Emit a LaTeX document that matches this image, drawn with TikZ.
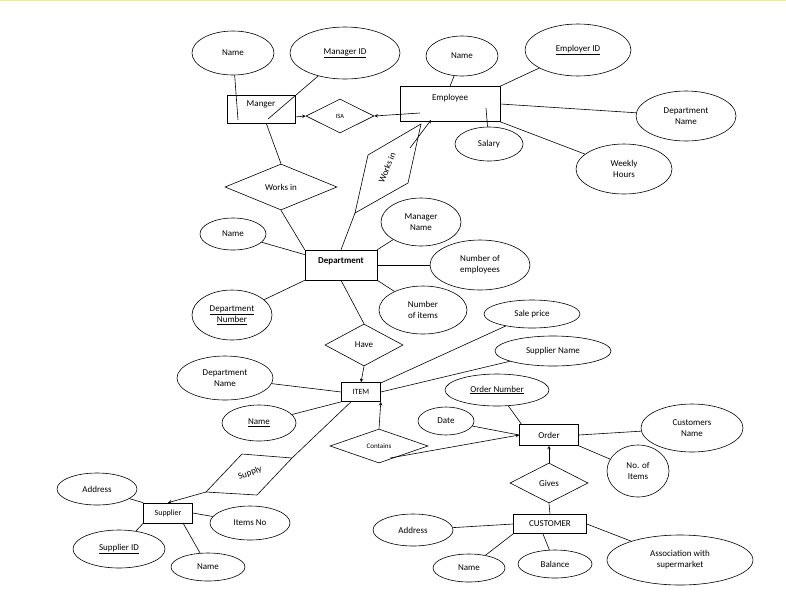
\documentclass[tikz,border=0pt]{standalone}
\usepackage{fontspec}
\setmainfont{Carlito}
\usetikzlibrary{shapes.geometric,arrows}

\tikzset{
	attr/.style={draw, ellipse, inner sep=0pt, align=center, font=\fontsize{9}{11}\selectfont},
	ent/.style={draw, rectangle, inner sep=0pt, font=\fontsize{9}{11}\selectfont},
	rel/.style={draw, diamond, inner sep=0pt, font=\fontsize{9}{11}\selectfont},
}

\begin{document}
\begin{tikzpicture}[x=1pt, y=-1pt, >=stealth, line width=0.6pt]
	\useasboundingbox (0,0) rectangle (786,606);
	\draw[yellow!60!gray!40, line width=1pt] (0,0.5) -- (786,0.5);

	% manager side
	\node[attr, minimum width=82, minimum height=44] (mname) at (233,53) {Name};
	\node[attr, minimum width=110, minimum height=52] (mid) at (345,53) {\underline{Manager ID}};
	\node[ent, minimum width=68, minimum height=28, text depth=10pt] (manger) at (261,109) {Manger};
	\node[rel, minimum width=68, minimum height=34, font=\fontsize{6.5}{7}\selectfont] (isa) at (340,116) {ISA};

	% employee
	\node[ent, minimum width=100, minimum height=35, text depth=14pt] (emp) at (450,104) {Employee};
	\node[attr, minimum width=72, minimum height=40] (ename) at (462,56) {Name};
	\node[attr, minimum width=106, minimum height=52] (eid) at (578,50) {\underline{Employer ID}};
	\node[attr, minimum width=100, minimum height=50] (edept) at (686,116) {Department\\Name};
	\node[attr, minimum width=68, minimum height=34] (sal) at (489,144) {Salary};
	\node[attr, minimum width=96, minimum height=50] (hours) at (624,169) {Weekly\\Hours};

	% works in
	\node[rel, minimum width=112, minimum height=46] (works) at (281,187) {Works in};
	\coordinate (wa) at (355,213);
	\coordinate (wb) at (368,155);
	\coordinate (wc) at (421,124);
	\coordinate (wd) at (408,183);
	\draw (wa) -- (wb) -- (wc) -- (wd) -- cycle;
	\node[rotate=68, font=\fontsize{9}{11}\selectfont] (workslbl) at (387,168) {Works in};

	% department
	\node[ent, minimum width=72, minimum height=30, text depth=8pt, font=\fontsize{9}{11}\selectfont\bfseries] (dept) at (341,265) {Department};
	\node[attr, minimum width=66, minimum height=32] (dname) at (233,234) {Name};
	\node[attr, minimum width=80, minimum height=48] (mgrname) at (421,222) {Manager\\Name};
	\node[attr, minimum width=100, minimum height=50] (nemp) at (480,265) {Number of\\employees};
	\node[attr, minimum width=80, minimum height=50] (dnum) at (232,315) {\underline{Department}\\\underline{Number}};
	\node[attr, minimum width=88, minimum height=48] (nitems) at (423,310) {Number\\of items};
	\node[rel, minimum width=78, minimum height=42] (have) at (364,345) {Have};

	% item
	\node[ent, minimum width=39, minimum height=19, font=\fontsize{8}{9}\selectfont] (item) at (361,392) {ITEM};
	\node[attr, minimum width=96, minimum height=28] (sale) at (532,314) {Sale price};
	\node[attr, minimum width=116, minimum height=30] (supname) at (553,351) {Supplier Name};
	\node[attr, minimum width=96, minimum height=44] (idept) at (225,378) {Department\\Name};
	\node[attr, minimum width=74, minimum height=36] (iname) at (259,423) {\underline{Name}};
	\node[rel, minimum width=98, minimum height=34, font=\fontsize{7}{8}\selectfont] (contains) at (379,446) {Contains};

	% supply
	\coordinate (sa) at (242,454);
	\coordinate (sb) at (292,458);
	\coordinate (sc) at (257,495);
	\coordinate (sd) at (206,492);
	\draw (sa) -- (sb) -- (sc) -- (sd) -- cycle;
	\node[rotate=20, font=\fontsize{9}{11}\selectfont] (supplylbl) at (250,473) {Supply};

	% supplier
	\node[ent, minimum width=49, minimum height=20, font=\fontsize{8}{9}\selectfont] (supplier) at (168,513) {Supplier};
	\node[attr, minimum width=80, minimum height=32] (saddr) at (97,489) {Address};
	\node[attr, minimum width=80, minimum height=34] (sitems) at (250,523) {Items No};
	\node[attr, minimum width=92, minimum height=38] (sid) at (119,549) {\underline{Supplier ID}};
	\node[attr, minimum width=74, minimum height=28] (sname) at (208,567) {Name};

	% order
	\node[ent, minimum width=59, minimum height=21] (order) at (549,435) {Order};
	\node[attr, minimum width=104, minimum height=32] (onum) at (497,390) {\underline{Order Number}};
	\node[attr, minimum width=56, minimum height=28] (odate) at (446,421) {Date};
	\node[attr, minimum width=102, minimum height=48] (cname) at (692,428) {Customers\\Name};
	\node[attr, minimum width=62, minimum height=52] (onitems) at (638,471) {No. of\\Items};
	\node[rel, minimum width=78, minimum height=40] (gives) at (549,483) {Gives};

	% customer
	\node[ent, minimum width=73, minimum height=19] (cust) at (550,524) {CUSTOMER};
	\node[attr, minimum width=80, minimum height=32] (caddr) at (413,530) {Address};
	\node[attr, minimum width=72, minimum height=28] (cnamea) at (469,568) {Name};
	\node[attr, minimum width=74, minimum height=28] (cbal) at (555,564) {Balance};
	\node[attr, minimum width=146, minimum height=50] (assoc) at (680,560) {Association with\\supermarket};

	% connectors
	\draw (mname) -- (238,120);
	\draw (mid) -- (268,119);
	\draw[->] (295,117) -- (isa.west);
	\draw[->] (420,113) -- (isa.east);
	\draw (manger) -- (works.north);
	\draw (works.south) -- (dept.north west);
	\draw (ename) -- (emp.north);
	\draw (eid) -- (emp.north east);
	\draw (edept) -- (emp.east);
	\draw (hours) -- (emp.south east);
	\draw (sal) -- (486,108);
	\draw (dept.north) -- (wa);
	\draw[->] (410,148) -- (431,120);
	\draw (dname) -- (dept);
	\draw (mgrname) -- (dept.north east);
	\draw (nemp) -- (dept);
	\draw (nitems) -- (dept.south east);
	\draw (dnum) -- (dept.south west);
	\draw (dept.south) -- (have.north);
	\draw[->] (have.south) -- (item.north);
	\draw (sale) -- (item);
	\draw (supname) -- (item.east);
	\draw (idept) -- (item.west);
	\draw (iname) -- (item.south west);
	\draw (item.south) ++(-10,0) -- (sb);
	\draw[->] (sd) -- (supplier.north);
	\draw[->] (contains.north) -- (item.south east);
	\draw[->] (390,458) -- (order.west);
	\draw (saddr) -- (supplier.north west);
	\draw (sid) -- (supplier.south west);
	\draw (sname) -- (183,523);
	\draw (sitems) -- (supplier.east);
	\draw (onum) -- (522,425);
	\draw (odate) -- (order.west);
	\draw (cname) -- (order.east);
	\draw (onitems) -- (order.south east);
	\draw[->] (gives.north) -- (order.south);
	\draw (gives.south) -- (cust.north);
	\draw (caddr) -- (cust.west);
	\draw (cnamea) -- (cust.south west);
	\draw (cbal) -- (543,534);
	\draw (assoc) -- (cust.east);
\end{tikzpicture}
\end{document}
